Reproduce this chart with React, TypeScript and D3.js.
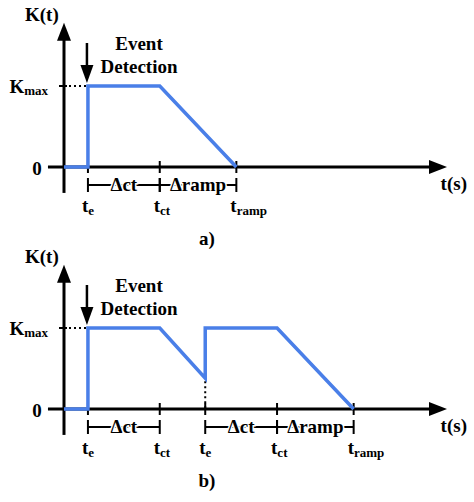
import * as d3 from 'd3'

// panel a)
const timesA = [0, 1, 1, 4, 7.2]
const gainA = [0, 0, 1, 1, 0]
const tickTimesA = [1, 4, 7.2]
const tickSubsA = ['e', 'ct', 'ramp']
const spansA: [number, number, string][] = [[1, 4, 'Δct'], [4, 7.2, 'Δramp']]

// panel b)
const timesB = [0, 1, 1, 4, 5.9, 5.9, 8.9, 12.1]
const gainB = [0, 0, 1, 1, 0.38, 1, 1, 0]
const tickTimesB = [1, 4, 5.9, 8.9, 12.1]
const tickSubsB = ['e', 'ct', 'e', 'ct', 'ramp']
const spansB: [number, number, string][] = [[1, 4, 'Δct'], [5.9, 8.9, 'Δct'], [8.9, 12.1, 'Δramp']]

const panelLabels = ['a)', 'b)']

const W = 474
const H = 502
const BLUE = '#4a7fe8'
const FONT = 'Liberation Serif'

const x = d3.scaleLinear().domain([0, 16]).range([64, 447])
const y = d3.scaleLinear().domain([0, 1]).range([167, 86])

interface PanelProps {
  dy: number
  times: number[]
  gain: number[]
  tickTimes: number[]
  tickSubs: string[]
  spans: [number, number, string][]
  label: string
}

const T = (props: any) => <text fontFamily={FONT} fontWeight="bold" fontSize={19} {...props} />

function Panel({ dy, times, gain, tickTimes, tickSubs, spans, label }: PanelProps) {
  const pts = times.map((t, i) => [t, gain[i]] as [number, number])
  const line = d3.line<[number, number]>().x(d => x(d[0])).y(d => y(d[1]))
  const x0 = x(0)
  const y0 = y(0)
  const yTop = y(1.78)
  const yBot = y(-0.32)
  const xLeft = x(-0.67)
  const xTip = x(16)
  const rise = pts.find(p => p[1] === 1)!
  // vertical jumps that start above zero get a dotted drop line
  const drops = pts.filter((p, i) => i > 0 && pts[i - 1][0] === p[0] && pts[i - 1][1] > 0 && pts[i - 1][1] < 1)
    .map(p => pts[pts.indexOf(p) - 1])
  const spanY = y0 + 18
  const arrowX = x(rise[0]) - 1

  return (
    <g transform={`translate(0,${dy})`}>
      {/* axes */}
      <line x1={x0} x2={x0} y1={yBot} y2={yTop + 14} stroke="#000" strokeWidth={3} />
      <path d={`M${x0},${yTop} L${x0 - 7},${yTop + 18} L${x0 + 7},${yTop + 18} Z`} fill="#000" />
      <line x1={xLeft} x2={xTip - 14} y1={y0} y2={y0} stroke="#000" strokeWidth={3} />
      <path d={`M${xTip},${y0} L${xTip - 18},${y0 - 7} L${xTip - 18},${y0 + 7} Z`} fill="#000" />
      <line x1={x0 - 5} x2={x0 + 3} y1={y(1)} y2={y(1)} stroke="#000" strokeWidth={2} />
      {tickTimes.map((t, i) => (
        <line key={i} x1={x(t)} x2={x(t)} y1={y0 - 6} y2={y0 + 6} stroke="#000" strokeWidth={2} />
      ))}

      {/* dotted guides */}
      <line x1={x0} x2={x(rise[0])} y1={y(1)} y2={y(1)} stroke="#000" strokeWidth={2} strokeDasharray="2,3" />
      {drops.map((p, i) => (
        <line key={i} x1={x(p[0])} x2={x(p[0])} y1={y(p[1]) + 3} y2={y0} stroke="#000" strokeWidth={2} strokeDasharray="2,3" />
      ))}

      {/* K(t) */}
      <path d={line(pts) || ''} fill="none" stroke={BLUE} strokeWidth={3.5} strokeLinejoin="miter" />

      {/* event arrow */}
      <line x1={arrowX} x2={arrowX} y1={y(1) - 43} y2={y(1) - 18} stroke="#000" strokeWidth={2.5} />
      <path d={`M${arrowX},${y(1) - 3} L${arrowX - 6.5},${y(1) - 21} L${arrowX + 6.5},${y(1) - 21} Z`} fill="#000" />
      <T x={139} y={y(1) - 36} textAnchor="middle">Event</T>
      <T x={139} y={y(1) - 13} textAnchor="middle">Detection</T>

      {/* y labels */}
      <T x={25} y={21}>K(t)</T>
      <T x={48} y={y(1) + 7} textAnchor="end">
        K<tspan fontSize={13} dy={2}>max</tspan>
      </T>
      <T x={37} y={y0 + 8} textAnchor="middle">0</T>
      <T x={467} y={y0 + 23} textAnchor="end">t(s)</T>

      {/* interval brackets */}
      {spans.map(([a, b, s], i) => (
        <g key={i}>
          <line x1={x(a)} x2={x(b)} y1={spanY} y2={spanY} stroke="#000" strokeWidth={1.8} />
          <line x1={x(a)} x2={x(a)} y1={spanY - 7} y2={spanY + 7} stroke="#000" strokeWidth={2} />
          <line x1={x(b)} x2={x(b)} y1={spanY - 7} y2={spanY + 7} stroke="#000" strokeWidth={2} />
          <T x={(x(a) + x(b)) / 2} y={spanY + 6} textAnchor="middle"
            stroke="#fff" strokeWidth={3} paintOrder="stroke">{s}</T>
        </g>
      ))}

      {/* tick labels */}
      {tickTimes.map((t, i) => (
        <T key={i} x={x(t) - 6} y={y0 + 45}>
          t<tspan fontSize={13} dy={3}>{tickSubs[i]}</tspan>
        </T>
      ))}

      <T x={207} y={y0 + 78} textAnchor="middle">{label}</T>
    </g>
  )
}

export default function App() {
  return (
    <svg width={W} height={H} style={{ position: 'absolute', left: 0, top: 0, background: '#fff' }}>
      <rect width={W} height={H} fill="#fff" />
      <Panel dy={0} times={timesA} gain={gainA} tickTimes={tickTimesA} tickSubs={tickSubsA} spans={spansA} label={panelLabels[0]} />
      <Panel dy={242} times={timesB} gain={gainB} tickTimes={tickTimesB} tickSubs={tickSubsB} spans={spansB} label={panelLabels[1]} />
    </svg>
  )
}
